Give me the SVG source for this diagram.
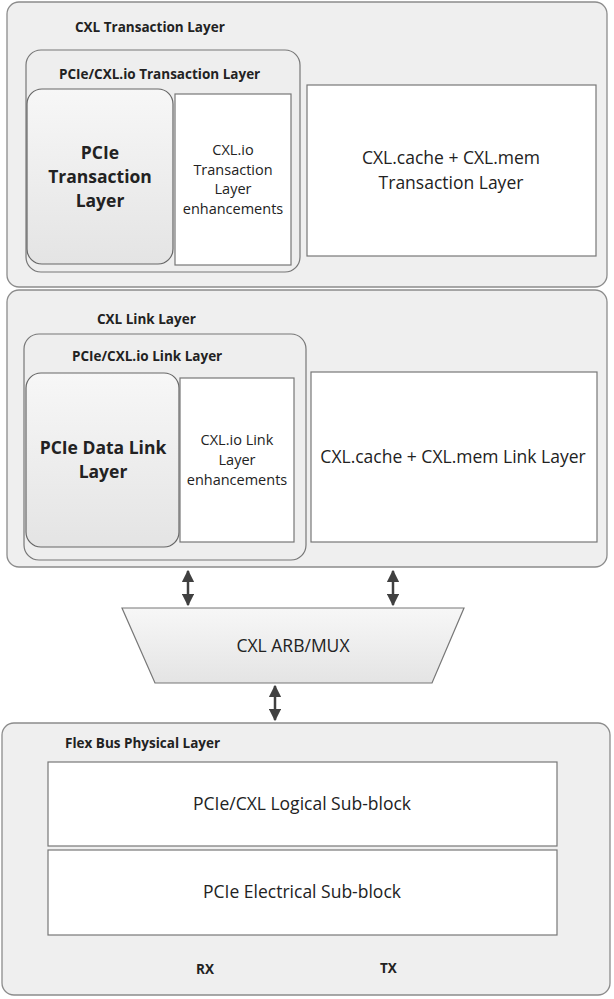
<svg xmlns="http://www.w3.org/2000/svg" width="614" height="999" viewBox="0 0 614 999">
<defs>
<linearGradient id="g" x1="0" y1="0" x2="0" y2="1"><stop offset="0" stop-color="#f7f7f7"/><stop offset="1" stop-color="#e4e4e4"/></linearGradient>
<marker id="ah" viewBox="0 0 10 10" refX="9" refY="5" markerWidth="5" markerHeight="5" orient="auto-start-reverse"><path d="M0,0L10,5L0,10z" fill="#404040"/></marker>
</defs>
<style>
.o{fill:#efefef;stroke:#8c8c8c;stroke-width:1.3}
.i{fill:#eeeeee;stroke:#777;stroke-width:1.2}
.p{fill:url(#g);stroke:#666;stroke-width:1.2}
.w{fill:#fff;stroke:#777;stroke-width:1.2}
text{font-family:"Open Sans","Liberation Sans",sans-serif;fill:#222}
.b{font-weight:bold;font-size:13.5px}
.pb{font-weight:bold;font-size:17.5px;text-anchor:middle}
.s{font-size:14.5px;text-anchor:middle}
.m{font-size:17.5px;text-anchor:middle}
.c{stroke:#404040;stroke-width:2.5;fill:none;marker-start:url(#ah);marker-end:url(#ah)}
</style>
<rect width="614" height="999" fill="#fff"/>
<g id="txn">
<rect class="o" x="7" y="2" width="600" height="285" rx="12"/>
<text class="b" x="75" y="32">CXL Transaction Layer</text>
<rect class="i" x="26" y="50" width="274" height="222" rx="15"/>
<text class="b" x="59" y="79">PCIe/CXL.io Transaction Layer</text>
<rect class="p" x="27" y="89" width="146" height="175" rx="15"/>
<text class="pb" x="100" y="159">PCIe</text><text class="pb" x="100" y="183">Transaction</text><text class="pb" x="100" y="207">Layer</text>
<rect class="w" x="175" y="94" width="116" height="171"/>
<text class="s" x="233" y="155">CXL.io</text><text class="s" x="233" y="175">Transaction</text><text class="s" x="233" y="194">Layer</text><text class="s" x="233" y="214">enhancements</text>
<rect class="w" x="307" y="85" width="289" height="171"/>
<text class="m" x="451" y="164">CXL.cache + CXL.mem</text><text class="m" x="451" y="189">Transaction Layer</text>
</g>
<g id="link">
<rect class="o" x="7" y="290" width="600" height="277" rx="12"/>
<text class="b" x="97" y="324">CXL Link Layer</text>
<rect class="i" x="24" y="334" width="282" height="226" rx="15"/>
<text class="b" x="72" y="361">PCIe/CXL.io Link Layer</text>
<rect class="p" x="26" y="373" width="153" height="174" rx="15"/>
<text class="pb" x="103" y="454">PCIe Data Link</text><text class="pb" x="103" y="478">Layer</text>
<rect class="w" x="180" y="378" width="114" height="164"/>
<text class="s" x="237" y="445">CXL.io Link</text><text class="s" x="237" y="465">Layer</text><text class="s" x="237" y="485">enhancements</text>
<rect class="w" x="311" y="372" width="286" height="170"/>
<text class="m" x="453" y="463">CXL.cache + CXL.mem Link Layer</text>
</g>
<g id="mux">
<path d="M122,608H464L432,683H155Z" fill="url(#g)" stroke="#777" stroke-width="1.2"/>
<text class="m" x="293" y="652">CXL ARB/MUX</text>
</g>
<g id="phy">
<rect class="o" x="2" y="723" width="608" height="272" rx="12"/>
<text class="b" x="65" y="748">Flex Bus Physical Layer</text>
<rect class="w" x="48" y="762" width="509" height="84"/>
<text class="m" x="302" y="810">PCIe/CXL Logical Sub-block</text>
<rect class="w" x="48" y="850" width="509" height="85"/>
<text class="m" x="302" y="898">PCIe Electrical Sub-block</text>
<text class="b" x="196" y="974">RX</text>
<text class="b" x="380" y="973">TX</text>
</g>
<g id="connectors">
<line class="c" x1="188" y1="571" x2="188" y2="605"/>
<line class="c" x1="393" y1="571" x2="393" y2="605"/>
<line class="c" x1="275" y1="686" x2="275" y2="720"/>
</g>
</svg>
